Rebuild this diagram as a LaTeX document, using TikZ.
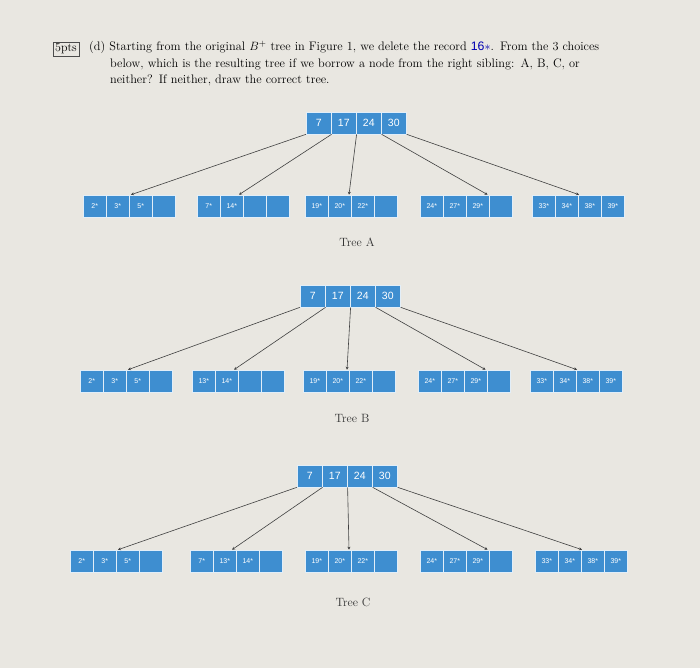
\documentclass[tikz,border=0pt]{standalone}
\usepackage{fontspec}
\newfontfamily\cellfont{Liberation Sans}
\usetikzlibrary{arrows.meta}
\definecolor{pagebg}{HTML}{E9E7E1}
\definecolor{cellblue}{HTML}{3E8ED0}
\tikzset{
  cellbox/.style={draw=white!85!cellblue, line width=0.6pt, fill=cellblue, text=white, minimum width=23pt, minimum height=22pt, inner sep=0pt, font=\cellfont\fontsize{7}{7}\selectfont, anchor=west},
  rootbox/.style={cellbox, minimum width=25pt, font=\cellfont\fontsize{10.5}{10.5}\selectfont},
  ptr/.style={draw=black!75, line width=0.6pt, -{Stealth[length=3pt,width=3pt]}},
  treelabel/.style={font=\fontsize{12}{12}\selectfont, text=black!80}
}
\newcommand{\mytree}[5]{%
  \foreach \k/\v [count=\j] in {0/7,1/17,2/24,3/30}
    \node[rootbox] (#1r\j) at (#2+25*\k, #3) {\v};
  \foreach \lx/\a/\b/\c/\d [count=\i] in {#5} {
    \node[cellbox] (#1l\i c1) at (\lx, #4) {\a};
    \node[cellbox] (#1l\i c2) at (\lx+23, #4) {\b};
    \node[cellbox] (#1l\i c3) at (\lx+46, #4) {\c};
    \node[cellbox] (#1l\i c4) at (\lx+69, #4) {\d};
  }
  \draw[ptr] (#1r1.south west) -- ([xshift=2pt]#1l1c3.north west);
  \draw[ptr] (#1r1.south east) -- ([xshift=-4pt]#1l2c3.north west);
  \draw[ptr] (#1r2.south east) -- ([xshift=-2pt]#1l3c3.north west);
  \draw[ptr] (#1r3.south east) -- ([xshift=-2pt]#1l4c3.north east);
  \draw[ptr] (#1r4.south east) -- ([xshift=1pt]#1l5c3.north west);
}
\begin{document}
\begin{tikzpicture}[x=1pt,y=-1pt]
\fill[pagebg] (0,0) rectangle (700,668);
\useasboundingbox (0,0) rectangle (700,668);
\node[draw=black!70, inner sep=2pt, font=\fontsize{12}{12}\selectfont] (pts) at (66,49) {5pts};
\node[anchor=north west, inner sep=0pt, align=left, text width=560pt, font=\fontsize{12.3}{16.5}\selectfont] (q) at (89,41)
{(d) Starting from the original $B^+$ tree in Figure 1, we delete the record {\cellfont\color{blue!70!black}16$\ast$}. From the 3 choices\\
\hspace*{21pt}below, which is the resulting tree if we borrow a node from the right sibling: A, B, C, or\\
\hspace*{21pt}neither? If neither, draw the correct tree.};
\mytree{A}{306}{123}{206}{83/2*/3*/5*/,197/7*/14*//,305/19*/20*/22*/,420/24*/27*/29*/,532/33*/34*/38*/39*}
\node[treelabel] (la) at (357,242) {Tree A};
\mytree{B}{300}{296}{381}{80/2*/3*/5*/,192/13*/14*//,303/19*/20*/22*/,418/24*/27*/29*/,530/33*/34*/38*/39*}
\node[treelabel] (lb) at (352,418) {Tree B};
\mytree{C}{297}{476}{561}{70/2*/3*/5*/,190/7*/13*/14*/,305/19*/20*/22*/,420/24*/27*/29*/,535/33*/34*/38*/39*}
\node[treelabel] (lc) at (353,602) {Tree C};
\end{tikzpicture}
\end{document}
